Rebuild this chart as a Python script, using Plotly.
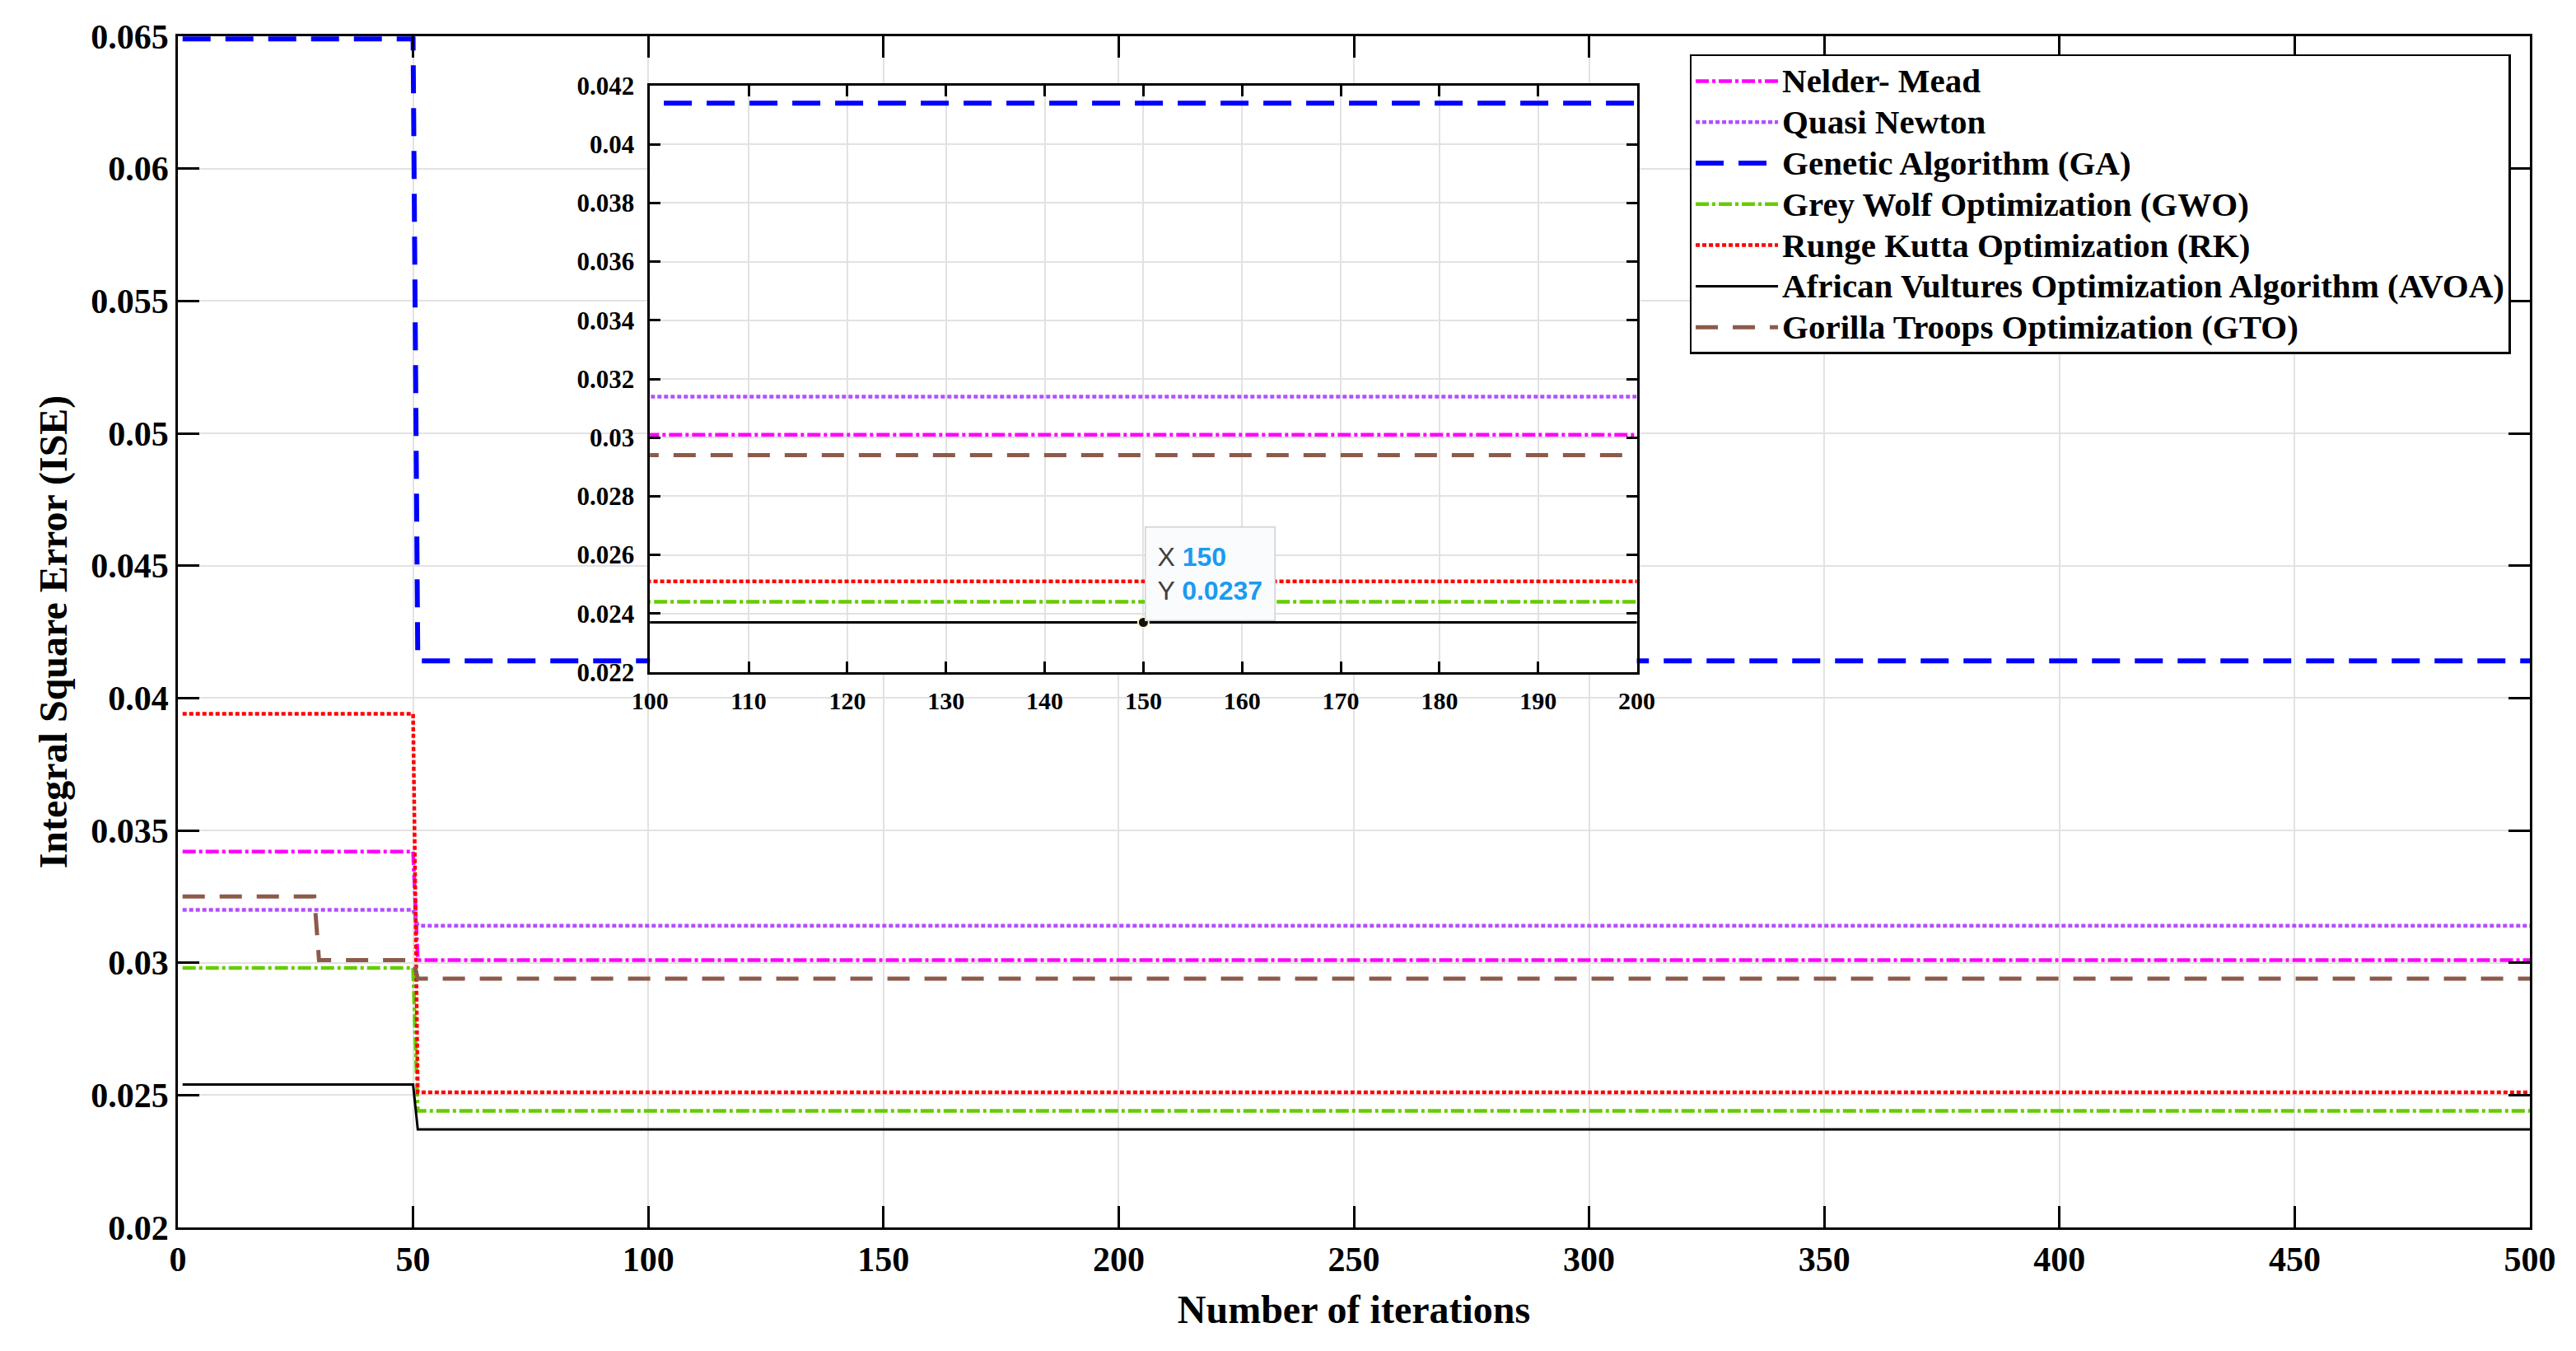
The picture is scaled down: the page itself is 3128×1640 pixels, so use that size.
import plotly.graph_objects as go

# datos (iteracion, ISE)
nm_x = [1, 50, 51, 500]
nm_y = [0.0342, 0.0342, 0.0301, 0.0301]
qn_x = [1, 50, 51, 500]
qn_y = [0.0320, 0.0320, 0.0314, 0.0314]
ga_x = [1, 50, 51, 500]
ga_y = [0.0649, 0.0649, 0.0414, 0.0414]
gwo_x = [1, 50, 51, 500]
gwo_y = [0.0298, 0.0298, 0.0244, 0.0244]
rk_x = [1, 50, 51, 500]
rk_y = [0.0394, 0.0394, 0.0251, 0.0251]
avoa_x = [1, 50, 51, 500]
avoa_y = [0.0254, 0.0254, 0.0237, 0.0237]
gto_x = [1, 29, 30, 50, 51, 500]
gto_y = [0.0325, 0.0325, 0.0301, 0.0301, 0.0294, 0.0294]

tip_x = [150]
tip_y = [0.0237]

x_ticks = list(range(0, 501, 50))
y_ticks = [0.02, 0.025, 0.03, 0.035, 0.04, 0.045, 0.05, 0.055, 0.06, 0.065]
y_text = ["0.02", "0.025", "0.03", "0.035", "0.04", "0.045", "0.05", "0.055", "0.06", "0.065"]
ix_ticks = list(range(100, 201, 10))
iy_ticks = [0.022, 0.024, 0.026, 0.028, 0.03, 0.032, 0.034, 0.036, 0.038, 0.04, 0.042]
iy_text = ["0.022", "0.024", "0.026", "0.028", "0.03", "0.032", "0.034", "0.036", "0.038", "0.04", "0.042"]

series = [
    ("Nelder- Mead", nm_x, nm_y, "#ff00ff", "16px,4px,4px,4px", 4.5),
    ("Quasi Newton", qn_x, qn_y, "#b44dff", "5px,3px", 4.5),
    ("Genetic Algorithm (GA)", ga_x, ga_y, "#0000ff", "34px,18px", 6),
    ("Grey Wolf Optimization (GWO)", gwo_x, gwo_y, "#66cc00", "16px,4px,4px,4px", 4.5),
    ("Runge Kutta Optimization (RK)", rk_x, rk_y, "#ff0000", "5px,3px", 4.5),
    ("African Vultures Optimization Algorithm (AVOA)", avoa_x, avoa_y, "#000000", "solid", 3),
    ("Gorilla Troops Optimization (GTO)", gto_x, gto_y, "#8c5a4b", "27px,18px", 5),
]

SERIF = "Liberation Serif"

fig = go.Figure()

# grafico principal
for name, xs, ys, col, dash, w in series:
    fig.add_trace(go.Scatter(x=xs, y=ys, name="<span style='font-size:41px'>" + name + "</span>",
                             mode="lines", line=dict(color=col, dash=dash, width=w),
                             xaxis="x", yaxis="y"))

# grafico ampliado (inset)
for name, xs, ys, col, dash, w in series:
    fig.add_trace(go.Scatter(x=xs, y=ys, name=name, mode="lines", showlegend=False,
                             line=dict(color=col, dash=dash, width=w),
                             xaxis="x2", yaxis="y2"))

fig.add_trace(go.Scatter(x=tip_x, y=tip_y, mode="markers", showlegend=False,
                         marker=dict(color="#111111", size=13, line=dict(color="#fff8c8", width=2)),
                         xaxis="x2", yaxis="y2"))

fig.add_annotation(x=tip_x[0], y=tip_y[0], xref="x2", yref="y2",
                   text="X <span style='color:#1a9bf0'><b>150</b></span><br>Y <span style='color:#1a9bf0'><b>0.0237</b></span>",
                   showarrow=False, xanchor="left", yanchor="bottom", xshift=2, yshift=1,
                   width=128, height=84, align="left", valign="middle",
                   bgcolor="#fafbfd", bordercolor="#d0d0d0", borderwidth=1.5,
                   borderpad=14, font=dict(family="Liberation Sans", size=32, color="#404040"))

axis_common = dict(showline=True, linecolor="black", linewidth=2.5, mirror="ticks",
                   ticks="inside", tickcolor="black", tickwidth=2.5,
                   showgrid=True, gridcolor="#e2e2e2", gridwidth=2, zeroline=False)

fig.update_layout(
    width=3128, height=1640,
    margin=dict(l=216, r=56, t=44, b=150),
    paper_bgcolor="white", plot_bgcolor="white",
    font=dict(family=SERIF, color="black"),
    xaxis=dict(axis_common, domain=[0, 1], range=[0, 500], tickvals=x_ticks, ticklen=26,
               tickfont=dict(family=SERIF, size=42, weight="bold"),
               title=dict(text="<b>Number of iterations</b>", font=dict(family=SERIF, size=48), standoff=22)),
    yaxis=dict(axis_common, domain=[0, 1], range=[0.02, 0.065], tickvals=y_ticks, ticktext=y_text,
               ticklen=26, tickfont=dict(family=SERIF, size=42, weight="bold"),
               title=dict(text="<b>Integral Square Error (ISE)</b>", font=dict(family=SERIF, size=48), standoff=14)),
    xaxis2=dict(axis_common, domain=[0.2007, 0.6203], anchor="y2", range=[100, 200],
                tickvals=ix_ticks, ticklen=13, ticklabelstandoff=6,
                tickfont=dict(family=SERIF, size=30, weight="bold")),
    yaxis2=dict(axis_common, domain=[0.4661, 0.9585], anchor="x2", range=[0.022, 0.042],
                tickvals=iy_ticks, ticktext=iy_text, ticklen=13, ticklabelstandoff=10,
                tickfont=dict(family=SERIF, size=31, weight="bold")),
    legend=dict(x=0.6427, y=0.9848, xanchor="left", yanchor="top",
                bgcolor="white", bordercolor="black", borderwidth=2.5,
                font=dict(family=SERIF, size=36, weight="bold"),
                itemwidth=100, tracegroupgap=0),
)

fig.write_html("out.html", config={"displayModeBar": False},
               post_script="document.body.style.margin='0';document.body.style.overflow='hidden';")
